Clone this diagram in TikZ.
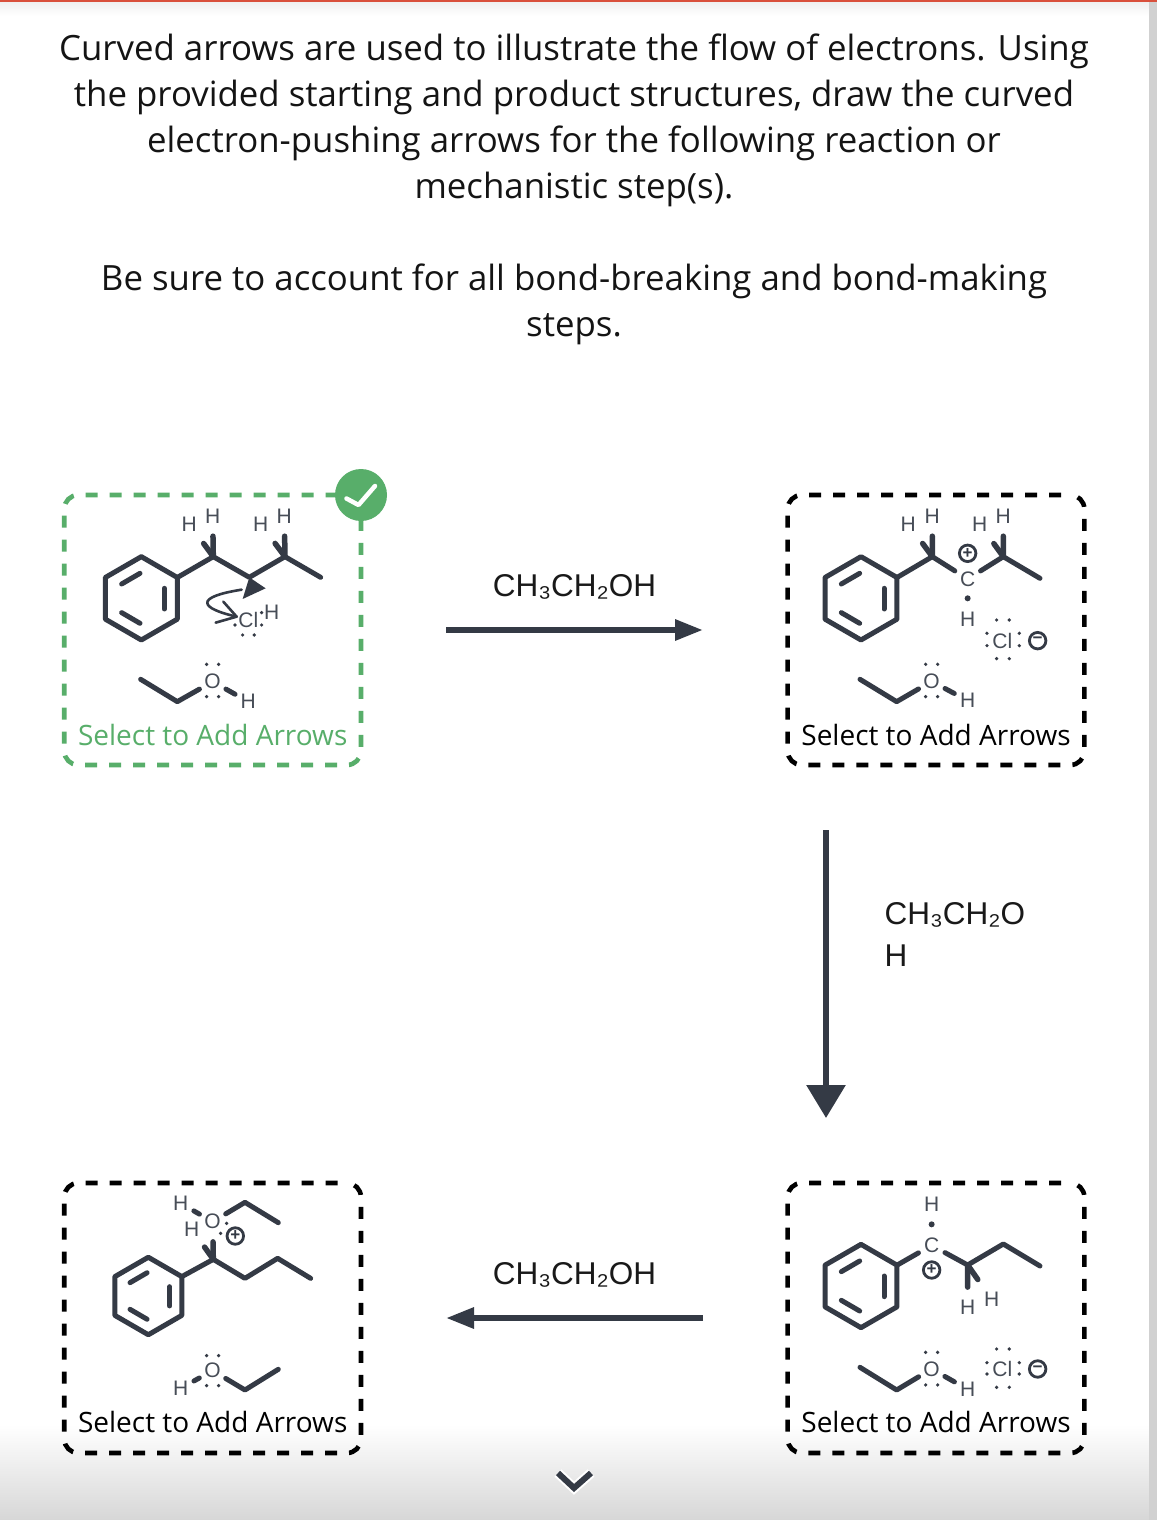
\documentclass[tikz,border=0pt]{standalone}
\usepackage{fontspec}
\setmainfont{Open Sans}
\newfontfamily\formulafont{Liberation Sans}
\usetikzlibrary{arrows.meta,fadings}
\definecolor{bondcol}{HTML}{343A45}
\definecolor{atomcol}{HTML}{474D57}
\definecolor{okgreen}{HTML}{58AE6A}
\definecolor{topline}{HTML}{D9503C}

\begin{document}
\begin{tikzpicture}[x=1pt,y=-1pt]
	\tikzset{bond/.style={draw=bondcol,line width=5pt,line cap=round,line join=round}}
	\tikzset{hbond/.style={bond,line width=5.5pt,shorten >=5pt}}
	\tikzset{hbondb/.style={bond,line width=5.5pt,shorten >=9pt}}
	\tikzset{atom/.style={circle,inner sep=0pt,minimum size=30pt,text=atomcol,font=\formulafont\fontsize{21}{21}\selectfont}}
	\tikzset{charge/.style={circle,draw=bondcol,line width=2.8pt,inner sep=0pt,minimum size=16.5pt,text=bondcol,font=\formulafont\bfseries\fontsize{17}{17}\selectfont}}
	\tikzset{lonepair/.style={fill=bondcol}}
	\tikzset{selectbox/.style={draw=black,line width=4.6pt,rounded corners=14pt,dash pattern=on 12pt off 12pt,dash phase=14.7pt,minimum width=296.7pt,minimum height=270pt,inner sep=0pt,outer sep=0pt}}
	\tikzset{selecttext/.style={font=\fontsize{28}{30}\selectfont}}
	\tikzset{stepline/.style={draw=bondcol,line width=6pt}}
	\tikzset{steplabel/.style={font=\formulafont\fontsize{31.5}{42}\selectfont,text=black!90}}
	\tikzset{prompt/.style={align=center,text=black!92,font=\fontsize{34.8}{46}\selectfont}}
	\tikzset{phenyl/.pic={
		\coordinate (-a) at (108,-62.5);
		\draw[bond] (0,-125) -- (108,-62.5) -- (108,62.5) -- (0,125) -- (-108,62.5) -- (-108,-62.5) -- cycle;
		\draw[bond] (-59,-43) -- (-4,-75);
		\draw[bond] (69,-30) -- (69,32);
		\draw[bond] (-59,43) -- (-4,75);
	}}

	\useasboundingbox (0,0) rectangle (1157,1520);
	\fill[white] (0,0) rectangle (1157,1520);

	\node[prompt] (intro) at (574,120) {Curved arrows are used to illustrate the flow of electrons. Using\\the provided starting and product structures, draw the curved\\electron-pushing arrows for the following reaction or\\mechanistic step(s).};
	\node[prompt] (note) at (574,304) {Be sure to account for all bond-breaking and bond-making\\steps.};

	\node[selectbox,draw=okgreen] (box1) at (212.6,630) {};
	\node[selectbox] (box2) at (936,630) {};
	\node[selectbox] (box3) at (212.6,1318) {};
	\node[selectbox] (box4) at (936,1318) {};
	\node[selecttext,text=okgreen] (text1) at (212.7,735) {Select to Add Arrows};
	\node[selecttext] (text2) at (936,735) {Select to Add Arrows};
	\node[selecttext] (text3) at (212.7,1422) {Select to Add Arrows};
	\node[selecttext] (text4) at (936,1422) {Select to Add Arrows};

	\node[circle,fill=okgreen,minimum size=52pt,inner sep=0pt] (okmark) at (361,495) {};
	\draw[white,line width=4.5pt,line cap=round,line join=round] ([shift={(-14.5,3.5)}]okmark.center) -- ([shift={(-2.5,10)}]okmark.center) -- ([shift={(14,-9)}]okmark.center);

	% reaction arrows
	\coordinate (arrowa) at (446,630);
	\coordinate (arrowb) at (703,630);
	\coordinate (arrowc) at (826,830);
	\coordinate (arrowd) at (826,1118);
	\coordinate (arrowe) at (703,1318);
	\coordinate (arrowf) at (446,1318);
	\draw[stepline,-{Triangle[length=28pt,width=20pt]}] (arrowa) -- (arrowb);
	\draw[stepline,-{Triangle[length=33pt,width=38pt]}] (arrowc) -- (arrowd);
	\draw[stepline,-{Triangle[length=28pt,width=20pt]}] (arrowe) -- (arrowf);
	\node[steplabel] (reagent1) at (574.5,587) {CH₃CH₂OH};
	\node[steplabel,align=left,anchor=north west] (reagent2) at (881,899) {CH₃CH₂O\\H};
	\node[steplabel] (reagent3) at (574.5,1275) {CH₃CH₂OH};

	% top left
	\begin{scope}[shift={(50,460)},scale=0.3333]
		\pic[scale=0.3333] (ring1) at (274,415) {phenyl};
		\coordinate (c1a) at (490,290);
		\coordinate (c1b) at (598,352);
		\coordinate (c1c) at (705,290);
		\coordinate (c1d) at (812,352);
		\coordinate (e1a) at (272,658);
		\coordinate (e1b) at (382,725);
		\node[atom] (h1a) at (488,168) {H};
		\node[atom] (h1b) at (418,192) {H};
		\node[atom] (h1c) at (703,168) {H};
		\node[atom] (h1d) at (632,192) {H};
		\node[atom] (cl1) at (595,480) {Cl};
		\node[atom] (h1e) at (665,458) {H};
		\node[atom] (o1) at (488,665) {O};
		\node[atom] (h1f) at (595,725) {H};
		\draw[bond] (ring1-a) -- (c1a) -- (c1b) -- (c1c) -- (c1d);
		\draw[hbond] (c1a) -- (h1a);
		\draw[hbondb] (c1a) -- (h1b);
		\draw[hbond] (c1c) -- (h1c);
		\draw[hbondb] (c1c) -- (h1d);
		\fill[bondcol] (c1b) -- (647,385) -- (578,417) -- cycle;
		\draw[bond] (e1a) -- (e1b) -- (o1);
		\draw[bond] (o1) -- (h1f);
		\coordinate (tip1) at (560,470);
		\draw[bondcol,line width=2.6pt,line cap=round,line join=round] (575,389) .. controls (430,412) and (450,445) .. (tip1);
		\draw[bondcol,line width=2.6pt,line cap=round,line join=round] (520,425) -- (tip1) -- (497,488);
		\foreach \dotpos in {(555,495),(635,495),(635,458),(578,525),(613,525),(470,613),(506,613),(470,710),(506,710)}
			\fill[lonepair] \dotpos circle (5.5pt);
	\end{scope}

	% top right
	\begin{scope}[shift={(775,480)},scale=0.3333]
		\pic[scale=0.3333] (ring2) at (258,355) {phenyl};
		\coordinate (c2a) at (472,230);
		\coordinate (c2c) at (685,230);
		\coordinate (c2d) at (795,295);
		\coordinate (e2a) at (255,598);
		\coordinate (e2b) at (365,665);
		\node[atom] (h2a) at (472,108) {H};
		\node[atom] (h2b) at (400,132) {H};
		\node[atom] (h2c) at (685,108) {H};
		\node[atom] (h2d) at (614,132) {H};
		\node[atom] (c2b) at (578,297) {C};
		\node[atom] (h2e) at (578,418) {H};
		\node[atom] (cl2) at (682,482) {Cl};
		\node[atom] (o2) at (470,604) {O};
		\node[atom] (h2f) at (578,662) {H};
		\node[charge] (plus2) at (578,220) {+};
		\node[charge] (minus2) at (788,482) {−};
		\draw[bond] (ring2-a) -- (c2a) -- (c2b);
		\draw[bond] (c2b) -- (c2c) -- (c2d);
		\draw[hbond] (c2a) -- (h2a);
		\draw[hbondb] (c2a) -- (h2b);
		\draw[hbond] (c2c) -- (h2c);
		\draw[hbondb] (c2c) -- (h2d);
		\draw[bond] (e2a) -- (e2b) -- (o2);
		\draw[bond] (o2) -- (h2f);
		\fill[lonepair] (578,355) circle (9pt);
		\foreach \dotpos in {(665,420),(703,420),(665,536),(703,536),(636,460),(636,497),(733,460),(733,497),(452,553),(488,553),(452,650),(488,650)}
			\fill[lonepair] \dotpos circle (5.5pt);
	\end{scope}

	% bottom right
	\begin{scope}[shift={(775,1170)},scale=0.3333]
		\pic[scale=0.3333] (ring4) at (258,348) {phenyl};
		\coordinate (c4b) at (578,285);
		\coordinate (c4c) at (685,222);
		\coordinate (c4d) at (795,288);
		\coordinate (e4a) at (255,592);
		\coordinate (e4b) at (365,660);
		\node[atom] (h4a) at (470,102) {H};
		\node[atom] (c4a) at (470,226) {C};
		\node[atom] (h4b) at (578,412) {H};
		\node[atom] (h4c) at (650,388) {H};
		\node[atom] (cl4) at (682,597) {Cl};
		\node[atom] (o4) at (470,597) {O};
		\node[atom] (h4d) at (578,658) {H};
		\node[charge] (plus4) at (470,300) {+};
		\node[charge] (minus4) at (788,597) {−};
		\draw[bond] (ring4-a) -- (c4a);
		\draw[bond] (c4a) -- (c4b) -- (c4c) -- (c4d);
		\draw[hbond] (c4b) -- (h4b);
		\draw[hbondb] (c4b) -- (h4c);
		\draw[bond] (e4a) -- (e4b) -- (o4);
		\draw[bond] (o4) -- (h4d);
		\fill[lonepair] (470,163) circle (9pt);
		\foreach \dotpos in {(665,537),(703,537),(665,652),(703,652),(636,578),(636,612),(733,578),(733,612),(452,547),(488,547),(452,645),(488,645)}
			\fill[lonepair] \dotpos circle (5.5pt);
	\end{scope}

	% bottom left
	\begin{scope}[shift={(50,1170)},scale=0.3333]
		\pic[scale=0.31] (ring3) at (295,378) {phenyl};
		\coordinate (c3a) at (490,268);
		\coordinate (c3b) at (585,325);
		\coordinate (c3c) at (683,265);
		\coordinate (c3d) at (782,325);
		\coordinate (e3a) at (585,97);
		\coordinate (e3b) at (685,158);
		\coordinate (e3c) at (585,660);
		\coordinate (e3d) at (685,598);
		\node[atom] (o3a) at (488,155) {O};
		\node[atom] (h3a) at (392,100) {H};
		\node[atom] (h3b) at (425,177) {H};
		\node[atom] (o3b) at (488,602) {O};
		\node[atom] (h3c) at (392,655) {H};
		\node[charge] (plus3) at (556,198) {+};
		\draw[bond] (ring3-a) -- (c3a) -- (c3b) -- (c3c) -- (c3d);
		\draw[hbond] (c3a) -- (o3a);
		\draw[hbond,shorten >=7pt] (c3a) -- (h3b);
		\draw[bond] (o3a) -- (h3a);
		\draw[bond] (o3a) -- (e3a) -- (e3b);
		\draw[bond] (o3b) -- (e3c) -- (e3d);
		\draw[bond] (o3b) -- (h3c);
		\foreach \dotpos in {(530,160),(512,190),(470,557),(506,557),(470,647),(506,647)}
			\fill[lonepair] \dotpos circle (5.5pt);
	\end{scope}

	% page edges
	\fill[black,opacity=0.06,path fading=south] (0,2) rectangle (1157,16);
	\fill[black,opacity=0.2,path fading=north] (0,1425) rectangle (1157,1545);
	\fill[black!18] (1149,0) rectangle (1157,1520);
	\fill[topline] (0,0) rectangle (1157,2.5);
	\coordinate (chevl) at (558,1473);
	\coordinate (chevm) at (574,1488);
	\coordinate (chevr) at (591,1473);
	\draw[white,line width=10pt] (chevl) -- (chevm) -- (chevr);
	\draw[bondcol,line width=6pt] (chevl) -- (chevm) -- (chevr);
\end{tikzpicture}
\end{document}
